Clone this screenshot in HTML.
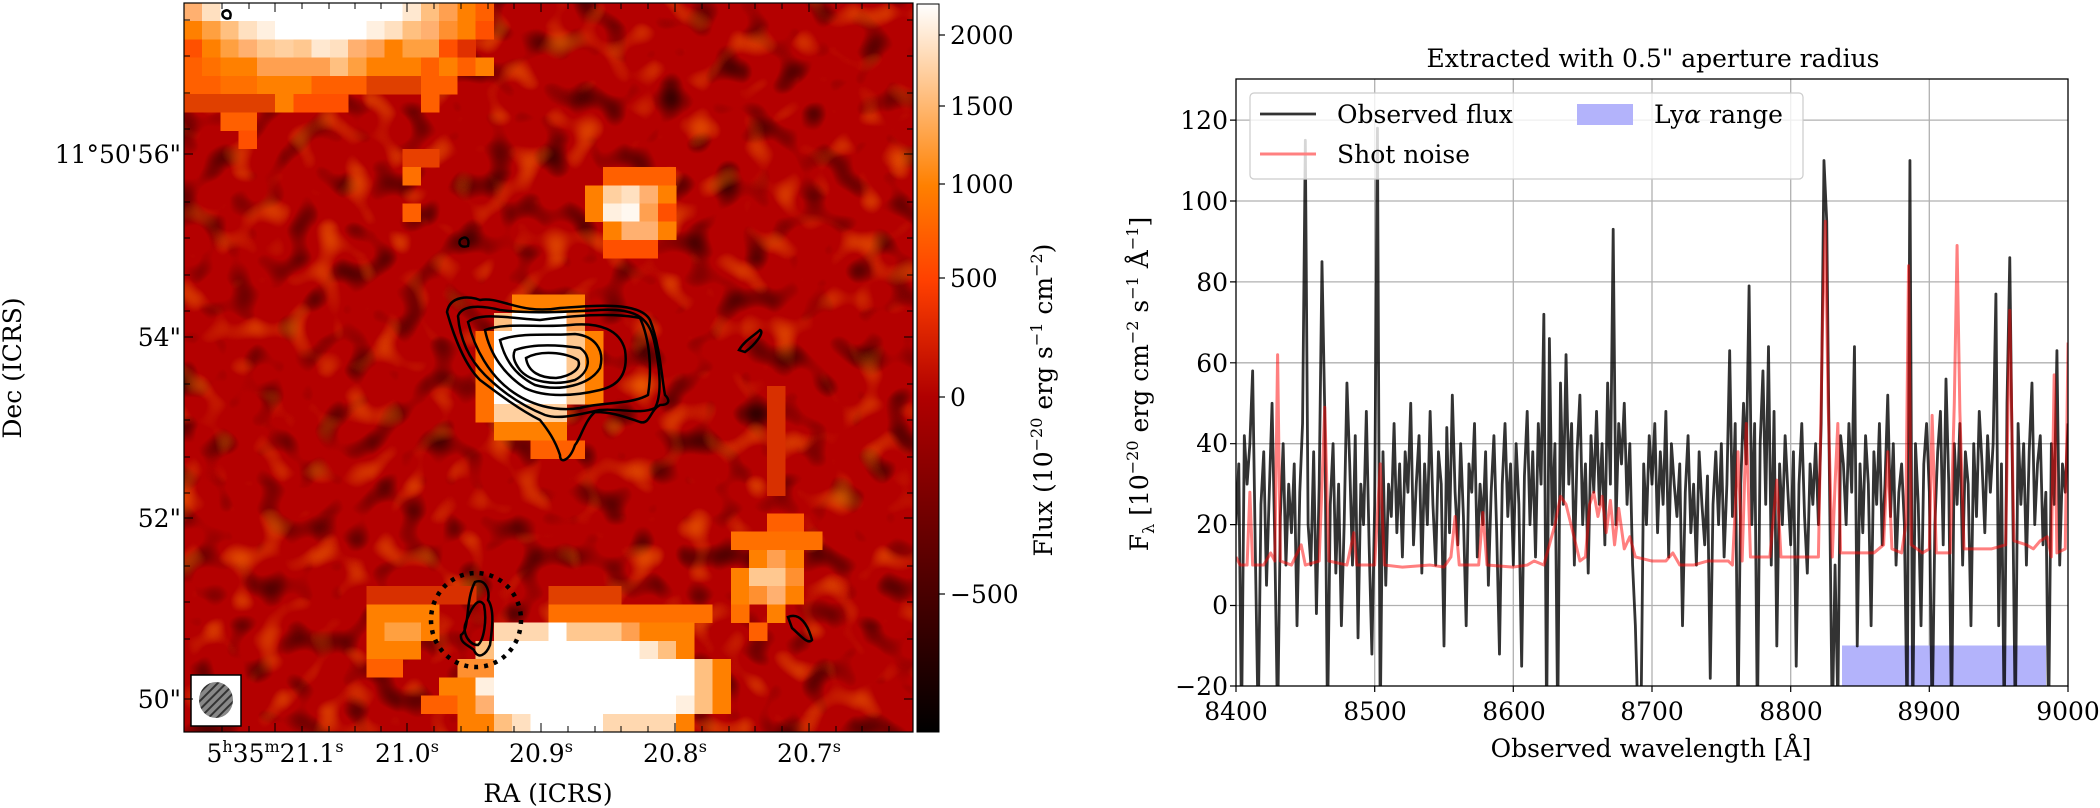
<!DOCTYPE html>
<html><head><meta charset="utf-8"><style>
html,body{margin:0;padding:0;background:#fff;}
svg{display:block;font-family:"DejaVu Serif","Liberation Serif",serif;}
</style></head><body>
<svg width="2100" height="808" viewBox="0 0 2100 808" xmlns="http://www.w3.org/2000/svg">
<defs>
<linearGradient id="cb" x1="0" y1="1" x2="0" y2="0">
<stop offset="0" stop-color="#000"/><stop offset="0.46" stop-color="#b00000"/><stop offset="0.62" stop-color="#ff4000"/><stop offset="0.75" stop-color="#ff8000"/><stop offset="0.875" stop-color="#ffbf80"/><stop offset="1" stop-color="#fff"/>
</linearGradient>
<pattern id="hat" width="6" height="6" patternUnits="userSpaceOnUse" patternTransform="rotate(45)"><rect width="6" height="6" fill="#888"/><rect width="2" height="6" fill="#333"/></pattern>
<clipPath id="ax"><rect x="1236" y="79" width="832" height="607"/></clipPath>
<clipPath id="im"><rect x="184" y="3" width="729" height="729"/></clipPath>
<filter id="nA" x="0" y="0" width="100%" height="100%" filterUnits="objectBoundingBox"><feTurbulence type="fractalNoise" baseFrequency="0.035" numOctaves="1" seed="7"/><feColorMatrix type="matrix" values="0 0 0 0 0  0 0 0 0 0  0 0 0 0 0  -2.2 0 0 0 1.05"/></filter>
<filter id="nB" x="0" y="0" width="100%" height="100%" filterUnits="objectBoundingBox"><feTurbulence type="fractalNoise" baseFrequency="0.035" numOctaves="1" seed="21"/><feColorMatrix type="matrix" values="0 0 0 0 1  0 0 0 0 0.2  0 0 0 0 0  2.2 0 0 0 -1.2"/></filter>
</defs>
<g clip-path="url(#im)">
<rect x="184" y="3" width="729" height="729" fill="#b40000"/>
<rect x="184" y="3" width="729" height="729" fill="#000" filter="url(#nA)"/>
<rect x="184" y="3" width="729" height="729" fill="#f00" filter="url(#nB)"/>
<g shape-rendering="crispEdges">
<rect x="184" y="3" width="18.5" height="18.5" fill="#ffb070"/><rect x="202.2" y="3" width="18.5" height="18.5" fill="#ffe0c0"/><rect x="220.5" y="3" width="182.5" height="18.5" fill="#fff"/><rect x="402.7" y="3" width="18.5" height="18.5" fill="#ffe8d0"/><rect x="420.9" y="3" width="18.5" height="18.5" fill="#ffc080"/><rect x="439.2" y="3" width="18.5" height="18.5" fill="#ffa050"/><rect x="457.4" y="3" width="18.5" height="18.5" fill="#ff8000"/><rect x="475.6" y="3" width="18.5" height="18.5" fill="#ff6000"/>
<rect x="184" y="21.2" width="18.5" height="18.5" fill="#ff8000"/><rect x="202.2" y="21.2" width="18.5" height="18.5" fill="#ffa040"/><rect x="220.5" y="21.2" width="18.5" height="18.5" fill="#ffc080"/><rect x="238.7" y="21.2" width="18.5" height="18.5" fill="#ffe0c0"/><rect x="256.9" y="21.2" width="18.5" height="18.5" fill="#fff0e0"/><rect x="275.1" y="21.2" width="91.5" height="18.5" fill="#fff"/><rect x="366.3" y="21.2" width="18.5" height="18.5" fill="#fff0e0"/><rect x="384.5" y="21.2" width="18.5" height="18.5" fill="#ffe0c0"/><rect x="402.7" y="21.2" width="18.5" height="18.5" fill="#ffc080"/><rect x="420.9" y="21.2" width="18.5" height="18.5" fill="#ffb070"/><rect x="439.2" y="21.2" width="18.5" height="18.5" fill="#ff9030"/><rect x="457.4" y="21.2" width="18.5" height="18.5" fill="#ff8000"/><rect x="475.6" y="21.2" width="18.5" height="18.5" fill="#ff5000"/>
<rect x="184" y="39.5" width="18.5" height="18.5" fill="#ff5000"/><rect x="202.2" y="39.5" width="18.5" height="18.5" fill="#ff8000"/><rect x="220.5" y="39.5" width="18.5" height="18.5" fill="#ffa040"/><rect x="238.7" y="39.5" width="18.5" height="18.5" fill="#ffb070"/><rect x="256.9" y="39.5" width="18.5" height="18.5" fill="#ffc890"/><rect x="275.1" y="39.5" width="18.5" height="18.5" fill="#ffd0a0"/><rect x="293.4" y="39.5" width="18.5" height="18.5" fill="#ffc890"/><rect x="311.6" y="39.5" width="18.5" height="18.5" fill="#ffe8d0"/><rect x="329.8" y="39.5" width="18.5" height="18.5" fill="#ffe0c0"/><rect x="348" y="39.5" width="18.5" height="18.5" fill="#ffb070"/><rect x="366.3" y="39.5" width="18.5" height="18.5" fill="#ffa050"/><rect x="384.5" y="39.5" width="18.5" height="18.5" fill="#ff8000"/><rect x="402.7" y="39.5" width="36.7" height="18.5" fill="#ffa040"/><rect x="439.2" y="39.5" width="18.5" height="18.5" fill="#ff5000"/><rect x="457.4" y="39.5" width="18.5" height="18.5" fill="#e03000"/>
<rect x="184" y="57.7" width="18.5" height="18.5" fill="#ff6000"/><rect x="202.2" y="57.7" width="18.5" height="18.5" fill="#ff7000"/><rect x="220.5" y="57.7" width="36.7" height="18.5" fill="#ff8000"/><rect x="256.9" y="57.7" width="73.1" height="18.5" fill="#ffa050"/><rect x="329.8" y="57.7" width="18.5" height="18.5" fill="#ffc080"/><rect x="348" y="57.7" width="18.5" height="18.5" fill="#ffa040"/><rect x="366.3" y="57.7" width="54.9" height="18.5" fill="#ff8000"/><rect x="420.9" y="57.7" width="18.5" height="18.5" fill="#ff6000"/><rect x="439.2" y="57.7" width="18.5" height="18.5" fill="#ff8000"/><rect x="457.4" y="57.7" width="18.5" height="18.5" fill="#ff6000"/><rect x="475.6" y="57.7" width="18.5" height="18.5" fill="#ff8000"/>
<rect x="184" y="75.9" width="36.7" height="18.5" fill="#ff6000"/><rect x="220.5" y="75.9" width="36.7" height="18.5" fill="#ff7000"/><rect x="256.9" y="75.9" width="54.9" height="18.5" fill="#ff8000"/><rect x="311.6" y="75.9" width="54.9" height="18.5" fill="#ff6000"/><rect x="366.3" y="75.9" width="54.9" height="18.5" fill="#e04000"/><rect x="420.9" y="75.9" width="36.7" height="18.5" fill="#ff6000"/>
<rect x="184" y="94.1" width="91.5" height="18.5" fill="#e04000"/><rect x="275.1" y="94.1" width="18.5" height="18.5" fill="#ff8000"/><rect x="293.4" y="94.1" width="54.9" height="18.5" fill="#ff5000"/><rect x="420.9" y="94.1" width="18.5" height="18.5" fill="#ff6000"/>
<rect x="220.5" y="112.4" width="36.7" height="18.5" fill="#ff6000"/><rect x="238.7" y="130.6" width="18.5" height="18.5" fill="#ff5000"/>
<rect x="402.7" y="148.8" width="36.7" height="18.5" fill="#e84000"/><rect x="402.7" y="167" width="18.5" height="18.5" fill="#ff7000"/><rect x="402.7" y="203.5" width="18.5" height="18.5" fill="#ff6000"/>
<rect x="603.2" y="167" width="73" height="18.5" fill="#ff6000"/>
<rect x="585" y="185.3" width="18.5" height="18.5" fill="#ff8000"/><rect x="603.2" y="185.3" width="18.5" height="18.5" fill="#ffd0a0"/><rect x="621.4" y="185.3" width="18.5" height="18.5" fill="#ffe0c0"/><rect x="639.6" y="185.3" width="18.5" height="18.5" fill="#ffb070"/><rect x="657.9" y="185.3" width="18.5" height="18.5" fill="#ff8000"/>
<rect x="585" y="203.5" width="18.5" height="18.5" fill="#ff8000"/><rect x="603.2" y="203.5" width="18.5" height="18.5" fill="#fff0e0"/><rect x="621.4" y="203.5" width="18.5" height="18.5" fill="#fff8f0"/><rect x="639.6" y="203.5" width="18.5" height="18.5" fill="#ffa050"/><rect x="657.9" y="203.5" width="18.5" height="18.5" fill="#ff5000"/>
<rect x="603.2" y="221.7" width="18.5" height="18.5" fill="#ff8000"/><rect x="621.4" y="221.7" width="36.7" height="18.5" fill="#ffb070"/><rect x="657.9" y="221.7" width="18.5" height="18.5" fill="#ff8000"/>
<rect x="603.2" y="239.9" width="54.9" height="18.5" fill="#ff5000"/>
<rect x="512.1" y="294.6" width="73" height="18.5" fill="#ff8000"/>
<rect x="493.8" y="312.8" width="18.5" height="18.5" fill="#ffc080"/><rect x="512.1" y="312.8" width="54.9" height="18.5" fill="#fff"/><rect x="566.7" y="312.8" width="18.5" height="18.5" fill="#ffa050"/>
<rect x="475.6" y="331.1" width="18.5" height="91.5" fill="#ff7000"/>
<rect x="493.8" y="331.1" width="73.1" height="73.2" fill="#fff"/><rect x="566.7" y="331.1" width="18.5" height="73.2" fill="#ffc890"/><rect x="585" y="331.1" width="18.5" height="73.2" fill="#ff8000"/>
<rect x="493.8" y="404" width="73.1" height="18.5" fill="#ffd0a0"/><rect x="493.8" y="422.2" width="73.1" height="18.5" fill="#ff8000"/><rect x="530.3" y="440.4" width="54.9" height="18.5" fill="#ff6000"/>
<rect x="767.2" y="386" width="18.5" height="110" fill="#d83000"/>
<rect x="767.2" y="513.3" width="36.7" height="18.5" fill="#ff6000"/>
<rect x="730.8" y="531.5" width="91.5" height="18.5" fill="#ff7000"/>
<rect x="749" y="549.8" width="18.5" height="18.5" fill="#ff8000"/><rect x="767.2" y="549.8" width="18.5" height="18.5" fill="#ffa050"/><rect x="785.4" y="549.8" width="18.5" height="18.5" fill="#ff8000"/>
<rect x="730.8" y="568" width="18.5" height="18.5" fill="#ff8000"/><rect x="749" y="568" width="36.7" height="18.5" fill="#ffc890"/><rect x="785.4" y="568" width="18.5" height="18.5" fill="#ff9030"/>
<rect x="730.8" y="586.2" width="18.5" height="18.5" fill="#ff8000"/><rect x="749" y="586.2" width="18.5" height="18.5" fill="#ff9030"/><rect x="767.2" y="586.2" width="18.5" height="18.5" fill="#ffb070"/><rect x="785.4" y="586.2" width="18.5" height="18.5" fill="#ff8000"/>
<rect x="730.8" y="604.4" width="18.5" height="18.5" fill="#ff7000"/><rect x="767.2" y="604.4" width="18.5" height="18.5" fill="#ff8000"/><rect x="749" y="622.7" width="18.5" height="18.5" fill="#ff6000"/>
<rect x="366.3" y="586.2" width="110" height="18.5" fill="#d83000"/><rect x="548.5" y="586.2" width="73" height="18.5" fill="#e04000"/>
<rect x="366.3" y="604.4" width="73" height="18.5" fill="#ff8000"/><rect x="548.5" y="604.4" width="164" height="18.5" fill="#ff7000"/>
<rect x="366.3" y="622.7" width="18.5" height="18.5" fill="#ff8000"/><rect x="384.5" y="622.7" width="36.7" height="18.5" fill="#ffa040"/><rect x="420.9" y="622.7" width="18.5" height="18.5" fill="#ff8000"/>
<rect x="493.8" y="622.7" width="54.9" height="18.5" fill="#ffd8b0"/><rect x="548.5" y="622.7" width="18.5" height="18.5" fill="#fff"/><rect x="566.7" y="622.7" width="54.9" height="18.5" fill="#ffc890"/><rect x="621.4" y="622.7" width="18.5" height="18.5" fill="#ffa050"/><rect x="639.6" y="622.7" width="54.9" height="18.5" fill="#ff8000"/>
<rect x="366.3" y="640.9" width="54.9" height="18.5" fill="#ff8000"/><rect x="475.6" y="640.9" width="18.5" height="18.5" fill="#ffc080"/><rect x="493.8" y="640.9" width="145.8" height="18.5" fill="#fff"/><rect x="639.6" y="640.9" width="18.5" height="18.5" fill="#ffe8d0"/><rect x="657.9" y="640.9" width="18.5" height="18.5" fill="#ffc080"/><rect x="676.1" y="640.9" width="18.5" height="18.5" fill="#ff8000"/>
<rect x="366.3" y="659.1" width="36.7" height="18.5" fill="#ff6000"/><rect x="457.4" y="659.1" width="36.7" height="18.5" fill="#ff9030"/><rect x="493.8" y="659.1" width="200.5" height="18.5" fill="#fff"/><rect x="694.3" y="659.1" width="18.5" height="18.5" fill="#ffc080"/><rect x="712.5" y="659.1" width="18.5" height="18.5" fill="#ff8000"/>
<rect x="439.2" y="677.3" width="36.7" height="18.5" fill="#ff8000"/><rect x="475.6" y="677.3" width="18.5" height="18.5" fill="#fff0e0"/><rect x="493.8" y="677.3" width="200.5" height="18.5" fill="#fff"/><rect x="694.3" y="677.3" width="18.5" height="18.5" fill="#ffc080"/><rect x="712.5" y="677.3" width="18.5" height="18.5" fill="#ff8000"/>
<rect x="420.9" y="695.6" width="36.7" height="18.5" fill="#ff6000"/><rect x="457.4" y="695.6" width="18.5" height="18.5" fill="#ff8000"/><rect x="475.6" y="695.6" width="18.5" height="18.5" fill="#ffb070"/><rect x="493.8" y="695.6" width="182.5" height="18.5" fill="#fff"/><rect x="676.1" y="695.6" width="18.5" height="18.5" fill="#fff0e0"/><rect x="694.3" y="695.6" width="18.5" height="18.5" fill="#ffc080"/><rect x="712.5" y="695.6" width="18.5" height="18.5" fill="#ff8000"/>
<rect x="457.4" y="713.8" width="36.7" height="18.5" fill="#ff8000"/><rect x="493.8" y="713.8" width="18.5" height="18.5" fill="#ffc080"/><rect x="512.1" y="713.8" width="18.5" height="18.5" fill="#ffe0c0"/><rect x="530.3" y="713.8" width="73" height="18.5" fill="#fff"/><rect x="603.2" y="713.8" width="73" height="18.5" fill="#ffd8b0"/><rect x="676.1" y="713.8" width="18.5" height="18.5" fill="#ff8000"/>
</g>
</g>
<g fill="none" stroke="#000" stroke-width="2.5" clip-path="url(#im)">
<path d="M447,312 C450,295 470,296 480,300 C500,296 520,315 560,308 C600,305 640,302 650,320 C660,345 662,380 665,395 C670,400 670,405 660,405 C650,410 650,425 640,422 C620,415 610,412 595,412 C585,420 580,440 575,445 C570,460 560,465 560,455 C555,440 548,430 540,420 C520,410 500,395 480,380 C465,365 455,340 447,312 Z"/>
<path d="M458,316 C462,305 480,305 500,310 C530,314 560,312 600,310 C640,308 650,320 655,345 C660,370 662,395 655,408 C640,415 620,408 600,410 C580,414 560,420 545,415 C520,405 500,390 485,375 C470,360 460,340 458,316 Z"/>
<path d="M468,322 C480,312 510,318 540,320 C570,316 610,312 640,318 C650,340 652,370 648,395 C630,405 600,402 580,408 C555,412 530,405 510,390 C490,375 475,350 468,322 Z"/>
<path d="M485,330 C505,322 540,328 570,325 C600,322 620,330 625,350 C628,370 622,385 600,390 C575,396 545,398 525,388 C505,375 490,355 485,330 Z"/>
<path d="M500,340 C520,332 550,336 575,334 C595,336 605,350 600,368 C590,385 560,392 535,385 C515,375 505,360 500,340 Z"/>
<path d="M515,350 C535,343 560,345 580,348 C592,356 590,372 575,380 C555,386 530,382 520,370 C514,362 512,356 515,350 Z"/>
<path d="M526,358 C540,350 565,352 578,360 C582,368 572,376 556,378 C540,378 528,372 526,358 Z"/>
<path d="M461,635 C470,630 465,600 475,582 C485,578 490,590 488,600 C495,610 492,630 490,645 C486,655 478,660 474,650 C468,645 460,643 461,635 Z"/>
<path d="M465,625 C470,610 478,595 484,605 C487,620 484,640 478,645 C470,645 463,635 465,625 Z"/>
<path d="M739,350 C745,340 755,335 760,330 C765,332 755,345 745,352 Z"/>
<path d="M788,617 C800,612 808,625 812,640 C808,645 800,635 792,628 Z"/>
<path d="M460,240 C465,235 470,238 468,246 C462,248 458,245 460,240 Z"/>
<path d="M223,12 C228,8 232,12 230,18 C225,20 221,16 223,12 Z"/>
</g>
<ellipse cx="476" cy="620" rx="45" ry="47" fill="none" stroke="#000" stroke-width="4.5" stroke-dasharray="4 6"/>
<rect x="191" y="675" width="50" height="51" fill="#fff" stroke="#000" stroke-width="1.5"/>
<ellipse cx="216" cy="700" rx="17" ry="18" fill="url(#hat)"/>
<rect x="184" y="3" width="729" height="729" fill="none" stroke="#000" stroke-width="1.2"/>
<g stroke="#000" stroke-width="1">
<path d="M184,20h6M184,56h6M184,93h6M184,129h6M184,154h9M184,202h6M184,238h6M184,275h6M184,311h6M184,337h9M184,384h6M184,420h6M184,457h6M184,493h6M184,518h9M184,566h6M184,602h6M184,639h6M184,699h9"/>
<path d="M913,20h-6M913,56h-6M913,93h-6M913,129h-6M913,154h-9M913,202h-6M913,238h-6M913,275h-6M913,311h-6M913,337h-9M913,384h-6M913,420h-6M913,457h-6M913,493h-6M913,518h-9M913,566h-6M913,602h-6M913,639h-6M913,699h-9"/>
<path d="M222,732v-6M249,732v-6M275,732v-9M302,732v-6M329,732v-6M355,732v-6M381,732v-6M407,732v-9M434,732v-6M461,732v-6M488,732v-6M514,732v-6M541,732v-9M568,732v-6M595,732v-6M621,732v-6M648,732v-6M675,732v-9M702,732v-6M729,732v-6M755,732v-6M782,732v-6M809,732v-9M836,732v-6M862,732v-6M889,732v-6"/>
<path d="M222,3v6M249,3v6M275,3v9M302,3v6M329,3v6M355,3v6M381,3v6M407,3v9M434,3v6M461,3v6M488,3v6M514,3v6M541,3v9M568,3v6M595,3v6M621,3v6M648,3v6M675,3v9M702,3v6M729,3v6M755,3v6M782,3v6M809,3v9M836,3v6M862,3v6M889,3v6"/>
</g>
<g font-size="25" fill="#000">
<text x="181" y="163" text-anchor="end">11°50'56"</text>
<text x="181" y="346" text-anchor="end">54"</text>
<text x="181" y="527" text-anchor="end">52"</text>
<text x="181" y="708" text-anchor="end">50"</text>
<text x="275" y="762" text-anchor="middle">5<tspan font-size="16" dy="-10">h</tspan><tspan dy="10">35</tspan><tspan font-size="16" dy="-10">m</tspan><tspan dy="10">21.1</tspan><tspan font-size="16" dy="-10">s</tspan></text>
<text x="407" y="762" text-anchor="middle">21.0<tspan font-size="16" dy="-10">s</tspan></text>
<text x="541" y="762" text-anchor="middle">20.9<tspan font-size="16" dy="-10">s</tspan></text>
<text x="675" y="762" text-anchor="middle">20.8<tspan font-size="16" dy="-10">s</tspan></text>
<text x="809" y="762" text-anchor="middle">20.7<tspan font-size="16" dy="-10">s</tspan></text>
<text x="548" y="802" text-anchor="middle">RA (ICRS)</text>
<text transform="translate(21,368) rotate(-90)" text-anchor="middle">Dec (ICRS)</text>
</g>
<rect x="917" y="4" width="22" height="728" fill="url(#cb)" stroke="#000" stroke-width="1"/>
<g stroke="#000" stroke-width="1.2"><line x1="939" y1="35" x2="945" y2="35"/><line x1="939" y1="106" x2="945" y2="106"/><line x1="939" y1="184" x2="945" y2="184"/><line x1="939" y1="278" x2="945" y2="278"/><line x1="939" y1="397" x2="945" y2="397"/><line x1="939" y1="594" x2="945" y2="594"/></g>
<g font-size="25"><text x="950" y="44">2000</text><text x="950" y="115">1500</text><text x="950" y="193">1000</text><text x="950" y="287">500</text><text x="950" y="406">0</text><text x="950" y="603">−500</text>
<text transform="translate(1052,400) rotate(-90)" text-anchor="middle">Flux (10<tspan font-size="16" dy="-10">−20</tspan><tspan dy="10"> erg s</tspan><tspan font-size="16" dy="-10">−1</tspan><tspan dy="10"> cm</tspan><tspan font-size="16" dy="-10">−2</tspan><tspan dy="10">)</tspan></text></g>

<g stroke="#b0b0b0" stroke-width="1.3">
<path d="M1374.7,79V686M1513.3,79V686M1652,79V686M1790.7,79V686M1929.3,79V686"/>
<path d="M1236,605.5H2068M1236,524.6H2068M1236,443.7H2068M1236,362.8H2068M1236,281.9H2068M1236,201H2068M1236,120.1H2068"/>
</g>
<rect x="1842" y="645.5" width="204" height="40.5" fill="#b3b3fb"/>
<g clip-path="url(#ax)">
<g transform="translate(1236,605.5) scale(1.3867,-4.045)">
<path fill="none" stroke="#000" stroke-opacity="0.8" stroke-width="2.8" stroke-linejoin="round" vector-effect="non-scaling-stroke" d="M0,20 2,35 4,-30 6,42 8,30 10,40 12,58 14,12 16,-30 18,25 20,38 22,5 24,28 26,50 28,15 30,-30 32,22 34,40 36,10 38,30 40,18 42,35 44,-5 46,28 48,45 50,115 52,20 54,10 56,38 58,-2 60,30 62,85 64,48 66,-30 68,25 70,40 72,8 74,30 76,-5 78,20 80,55 82,35 84,10 86,42 88,-8 90,30 92,20 94,48 96,15 98,-12 100,25 102,118 104,-30 106,38 108,5 110,30 112,22 114,45 116,18 118,35 120,12 122,38 124,28 126,50 128,15 130,30 132,42 134,8 136,35 138,20 140,48 142,25 144,10 146,38 148,30 150,-10 152,44 154,18 156,52 158,28 160,15 162,40 164,22 166,-5 168,35 170,28 172,45 174,12 176,30 178,20 180,38 182,5 184,28 186,42 188,18 190,-12 192,30 194,45 196,22 198,35 200,10 202,40 204,25 206,-15 208,32 210,48 212,20 214,38 216,12 218,45 220,30 222,72 224,-30 226,66 228,20 230,40 232,-30 234,55 236,25 238,62 240,30 242,45 244,10 246,38 248,52 250,20 252,35 254,8 256,42 258,28 260,48 262,25 264,40 266,15 268,55 270,30 272,93 274,20 276,45 278,35 280,50 282,25 284,40 286,10 288,-5 290,-30 292,-30 294,35 296,20 298,42 300,30 302,45 304,18 306,38 308,25 310,48 312,12 314,40 316,30 318,22 320,35 322,-5 324,28 326,42 328,18 330,30 332,10 334,38 336,25 338,15 340,32 342,-18 344,25 346,38 348,20 350,40 352,12 354,30 356,63 358,22 360,45 362,-30 364,30 366,50 368,35 370,79 372,20 374,45 376,-30 378,40 380,58 382,25 384,64 386,10 388,48 390,-10 392,35 394,20 396,42 398,28 400,15 402,38 404,-15 406,30 408,45 410,22 412,8 414,35 416,25 418,40 420,20 422,45 424,110 426,95 428,30 430,-30 432,10 434,-25 436,42 438,35 440,20 442,45 444,28 446,64 448,-10 450,35 452,18 454,42 456,30 458,-5 460,38 462,25 464,45 466,15 468,30 470,52 472,22 474,40 476,10 478,28 480,35 482,20 484,-30 486,110 488,-30 490,40 492,25 494,-5 496,35 498,45 500,28 502,-30 504,20 506,38 508,48 510,15 512,56 514,30 516,-30 518,40 520,25 522,45 524,10 526,38 528,30 530,-5 532,40 534,22 536,48 538,35 540,18 542,42 544,28 546,40 548,77 550,-5 552,35 554,-30 556,50 558,86 560,30 562,-30 564,45 566,25 568,40 570,10 572,38 574,55 576,20 578,35 580,42 582,15 584,28 586,-30 588,40 590,25 592,63 594,10 596,35 598,28 600,45"/>
<path fill="none" stroke="#ff0000" stroke-opacity="0.5" stroke-width="3" stroke-linejoin="round" vector-effect="non-scaling-stroke" d="M0,12 3,10 8,10 10,28 12,10 20,10 25,13 28,11 30,62 32,11 40,10 47,15 50,10 60,11 64,49 67,11 80,10 85,18 87,10 100,10 104,35 107,10 120,9.5 140,10 150,9.5 155,12 158,22 161,10 175,10 178,23 181,10 200,9.5 210,10 215,11 222,10 230,20 234,27 238,25 243,18 248,11 252,12 255,25 258,28 261,22 264,27 267,18 270,26 273,15 276,24 280,14 284,17 288,12 300,11 310,11 315,13 320,10 330,10 340,11 350,11 355,11 358,10 362,38 365,11 368,45 371,12 385,12 390,31 393,12 400,12 410,12 420,12 423,70 425,95 427,50 430,12 432,30 434,45 436,13 460,13 467,15 470,38 473,14 480,13 483,20 485,84 487,15 495,13 500,14 502,47 505,13 515,13 518,50 520,89 522,48 525,14 535,14 545,14 555,15 558,73 561,16 570,15 575,14 580,16 585,17 588,12 590,57 592,13 598,14 600,65"/>
</g>
</g>
<rect x="1236" y="79" width="832" height="607" fill="none" stroke="#000" stroke-width="1.3"/>
<g stroke="#000" stroke-width="1.2">
<path d="M1236,686v6M1374.7,686v6M1513.3,686v6M1652,686v6M1790.7,686v6M1929.3,686v6M2068,686v6"/>
<path d="M1230,686h6M1230,605.5h6M1230,524.6h6M1230,443.7h6M1230,362.8h6M1230,281.9h6M1230,201h6M1230,120.1h6"/>
</g>
<g font-size="25">
<text x="1653" y="67" text-anchor="middle">Extracted with 0.5" aperture radius</text>
<text x="1236" y="720" text-anchor="middle">8400</text><text x="1375" y="720" text-anchor="middle">8500</text><text x="1514" y="720" text-anchor="middle">8600</text><text x="1652" y="720" text-anchor="middle">8700</text><text x="1791" y="720" text-anchor="middle">8800</text><text x="1929" y="720" text-anchor="middle">8900</text><text x="2068" y="720" text-anchor="middle">9000</text>
<text x="1228" y="129" text-anchor="end">120</text><text x="1228" y="210" text-anchor="end">100</text><text x="1228" y="291" text-anchor="end">80</text><text x="1228" y="372" text-anchor="end">60</text><text x="1228" y="452" text-anchor="end">40</text><text x="1228" y="533" text-anchor="end">20</text><text x="1228" y="614" text-anchor="end">0</text><text x="1228" y="695" text-anchor="end">−20</text>
<text x="1651" y="757" text-anchor="middle">Observed wavelength [Å]</text>
<text transform="translate(1148,384) rotate(-90)" text-anchor="middle">F<tspan font-size="16" dy="6">λ</tspan><tspan dy="-6"> [10</tspan><tspan font-size="16" dy="-10">−20</tspan><tspan dy="10"> erg cm</tspan><tspan font-size="16" dy="-10">−2</tspan><tspan dy="10"> s</tspan><tspan font-size="16" dy="-10">−1</tspan><tspan dy="10"> Å</tspan><tspan font-size="16" dy="-10">−1</tspan><tspan dy="10">]</tspan></text>
</g>
<rect x="1250" y="93" width="553" height="86" rx="4" fill="#fff" fill-opacity="0.8" stroke="#ccc" stroke-width="1.2"/>
<line x1="1260" y1="114" x2="1316" y2="114" stroke="#333" stroke-width="2.8"/>
<line x1="1260" y1="154" x2="1316" y2="154" stroke="#ff8080" stroke-width="3"/>
<rect x="1577" y="104" width="56" height="21" fill="#b3b3fb"/>
<g font-size="25"><text x="1337" y="123">Observed flux</text><text x="1337" y="163">Shot noise</text><text x="1654" y="123">Ly<tspan font-style="italic">α</tspan> range</text></g>
</svg>
</body></html>
